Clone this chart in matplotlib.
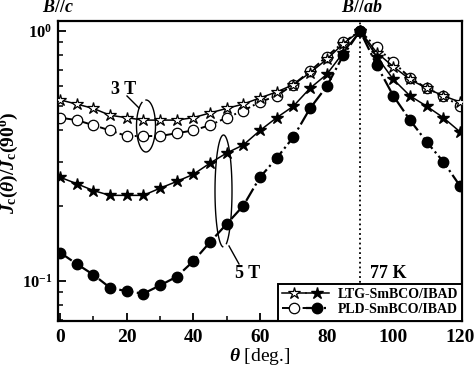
import matplotlib
matplotlib.use("Agg")
import matplotlib.pyplot as plt
import numpy as np
from matplotlib.legend_handler import HandlerTuple
from matplotlib.ticker import MultipleLocator

# -----------------------------------------------------------------------
# Data (angle in degrees, Jc(theta)/Jc(90))
# -----------------------------------------------------------------------
theta = [0, 5, 10, 15, 20, 25, 30, 35, 40, 45, 50, 55, 60,
         65, 70, 75, 80, 85, 90, 95, 100, 105, 110, 115, 120]

ltg_3T = [0.53, 0.51, 0.49, 0.46, 0.45, 0.44, 0.44, 0.44, 0.45, 0.47, 0.49, 0.51, 0.54,
          0.57, 0.61, 0.68, 0.77, 0.89, 1.0, 0.82, 0.72, 0.64, 0.59, 0.55, 0.52]
pld_3T = [0.45, 0.44, 0.42, 0.40, 0.38, 0.38, 0.38, 0.39, 0.40, 0.42, 0.45, 0.48, 0.52,
          0.55, 0.61, 0.69, 0.79, 0.90, 1.0, 0.86, 0.75, 0.65, 0.59, 0.55, 0.50]
ltg_5T = [0.26, 0.245, 0.23, 0.22, 0.22, 0.22, 0.235, 0.25, 0.267, 0.296, 0.325, 0.35, 0.40,
          0.45, 0.50, 0.59, 0.67, 0.82, 1.0, 0.79, 0.64, 0.55, 0.50, 0.45, 0.395]
pld_5T = [0.13, 0.117, 0.106, 0.094, 0.091, 0.089, 0.096, 0.104, 0.12, 0.143, 0.169, 0.20, 0.26,
          0.31, 0.376, 0.49, 0.60, 0.80, 1.0, 0.73, 0.55, 0.44, 0.36, 0.30, 0.24]

plt.rcParams["font.family"] = "Liberation Serif"
plt.rcParams["font.weight"] = "bold"
plt.rcParams["mathtext.fontset"] = "custom"
plt.rcParams["mathtext.rm"] = "Liberation Serif:bold"
plt.rcParams["mathtext.it"] = "Liberation Serif:italic:bold"
plt.rcParams["mathtext.bf"] = "Liberation Serif:bold"

fig = plt.figure(figsize=(4.74, 3.66), dpi=100)
# axes box in pixels: x 58..462, y 21..320.5 (from top)
L, R, T, B = 58, 462, 21, 320.5
ax = fig.add_axes([L / 474, 1 - B / 366, (R - L) / 474, (B - T) / 366])

ax.axvline(90, color="k", ls=":", lw=1.3, zorder=1)

ms_star, ms_circ = 9, 7.5
h1, = ax.plot(theta, ltg_3T, "-", color="k", lw=1.1, marker="*", ms=ms_star,
              mfc="white", mec="k", mew=0.9, zorder=3)
h2, = ax.plot(theta, ltg_5T, "-", color="k", lw=1.1, marker="*", ms=ms_star,
              mfc="k", mec="k", zorder=3)
h3, = ax.plot(theta, pld_3T, "-.", color="k", lw=1.4, marker="o", ms=ms_circ,
              mfc="white", mec="k", mew=0.9, zorder=2)
h4, = ax.plot(theta, pld_5T, "-.", color="k", lw=1.6, marker="o", ms=ms_circ,
              mfc="k", mec="k", zorder=2)

ax.set_yscale("log")
ax.set_xlim(-0.6, 120.6)
ax.set_ylim(0.0695, 1.096)
ax.xaxis.set_major_locator(MultipleLocator(20))
ax.xaxis.set_minor_locator(MultipleLocator(10))
ax.tick_params(which="both", direction="in", top=False, right=False)
ax.tick_params(which="major", length=6, width=1.3)
ax.tick_params(which="minor", length=3.5, width=1.1)
ax.tick_params(axis="x", which="major", labelsize=14, pad=6)
ax.tick_params(axis="y", which="major", labelsize=12, pad=4)
for s in ax.spines.values():
    s.set_linewidth(1.6)

ax.set_xlabel(r"$\theta$ [deg.]", fontsize=14)
ax.set_ylabel(r"$J_{\rm c}(\theta)/J_{\rm c}(90^{\rm o})$", fontsize=14)
ax.yaxis.set_label_coords((20 - L) / (R - L), 1 - (163 - T) / (B - T))
ax.xaxis.set_label_coords((260 - L) / (R - L), -(346 - B) / (B - T))


def afrac(px, py):
    return (px - L) / (R - L), (B - py) / (B - T)


# field annotations: ellipse around curves plus leader to the label
for (cx, cy, a, b, t0, lead, lab, txt) in [
    (146, 126, 9.5, 26, 115, [(127, 96), (139, 108)], (124, 89), "3 T"),
    (223.5, 191, 8.5, 56, 290, [(229, 246), (239, 264)], (248, 273), "5 T"),
]:
    t = np.radians(np.linspace(t0, t0 + 335, 120))
    ex, ey = afrac(cx + a * np.cos(t), cy - b * np.sin(t))
    ax.plot(ex, ey, transform=ax.transAxes, color="k", lw=1.0, zorder=4)
    p0, p1 = afrac(*lead[0]), afrac(*lead[1])
    ax.plot([p0[0], p1[0]], [p0[1], p1[1]], transform=ax.transAxes,
            color="k", lw=1.0, zorder=4)
    ax.text(*afrac(*lab), txt, transform=ax.transAxes, fontsize=13,
            ha="center", va="center")

ax.text(*afrac(388, 274), "77 K", transform=ax.transAxes, fontsize=13,
        ha="center", va="center")
ax.text(*afrac(58, 8), r"$\mathit{B//c}$", transform=ax.transAxes, fontsize=13,
        ha="center", va="center", clip_on=False)
ax.text(*afrac(362, 8), r"$\mathit{B//ab}$", transform=ax.transAxes, fontsize=13,
        ha="center", va="center", clip_on=False)

leg = ax.legend([(h1, h2), (h3, h4)], ["LTG-SmBCO/IBAD", "PLD-SmBCO/IBAD"],
                handler_map={tuple: HandlerTuple(ndivide=None, pad=0)},
                loc="lower right", borderaxespad=0, fancybox=False,
                edgecolor="k", framealpha=1, fontsize=10, handlelength=3.4,
                handletextpad=0.6, labelspacing=0.15, borderpad=0.3)
leg.get_frame().set_linewidth(1.4)
leg.set_zorder(5)

fig.savefig("out.png", dpi=100)
